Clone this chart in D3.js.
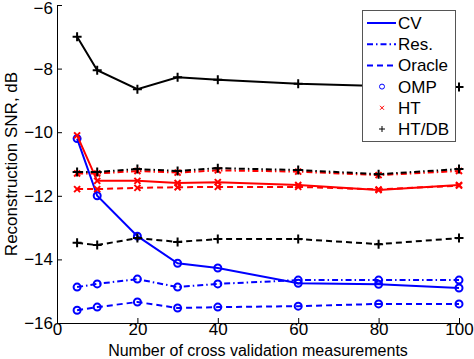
<!DOCTYPE html>
<html>
<head>
<meta charset="utf-8">
<script src="https://cdn.jsdelivr.net/npm/d3@7"></script>
<style>
  html, body { margin: 0; padding: 0; background: #fff; overflow: hidden; }
  svg { display: block; font-family: "Liberation Sans", Arial, Helvetica, sans-serif; }
</style>
</head>
<body>
<div id="chart"></div>
<script>
// Reconstruction SNR against number of cross validation measurements

var xValues = [5, 10, 20, 30, 40, 60, 80, 100]

// OMP (blue, circles)
var ompCV = [-10.2, -12.0, -13.27, -14.12, -14.27, -14.75, -14.78, -14.9]
var ompRes = [-14.87, -14.77, -14.62, -14.87, -14.77, -14.65, -14.65, -14.65]
var ompOracle = [-15.6, -15.5, -15.34, -15.53, -15.5, -15.47, -15.4, -15.4]

// HT (red, crosses)
var htCV = [-10.1, -11.53, -11.53, -11.6, -11.57, -11.66, -11.82, -11.66]
var htRes = [-11.3, -11.3, -11.22, -11.27, -11.2, -11.24, -11.35, -11.22]
var htOracle = [-11.79, -11.79, -11.75, -11.73, -11.72, -11.72, -11.8, -11.68]

// HT/DB (black, plus)
var htdbCV = [-7.0, -8.05, -8.65, -8.27, -8.35, -8.48, -8.55, -8.58]
var htdbRes = [-11.25, -11.25, -11.16, -11.22, -11.13, -11.19, -11.32, -11.16]
var htdbOracle = [-13.48, -13.55, -13.33, -13.45, -13.36, -13.36, -13.52, -13.33]

var xTicks = [0, 20, 40, 60, 80, 100]
var yTicks = [-16, -14, -12, -10, -8, -6]

var lineLegend = ['CV', 'Res.', 'Oracle']
var markerLegend = ['OMP', 'HT', 'HT/DB']

var width = 474
var height = 359
var margin = { top: 5, right: 15, bottom: 36, left: 57 }

var styles = {
  CV: null,
  'Res.': '6,3,1.5,3',
  Oracle: '6,4'
}
var colours = { OMP: '#0000ff', HT: '#ff0000', 'HT/DB': '#000000' }
var markers = { OMP: 'circle', HT: 'x', 'HT/DB': 'plus' }

var series = [
  { method: 'OMP', kind: 'CV', values: ompCV },
  { method: 'OMP', kind: 'Res.', values: ompRes },
  { method: 'OMP', kind: 'Oracle', values: ompOracle },
  { method: 'HT', kind: 'CV', values: htCV },
  { method: 'HT', kind: 'Res.', values: htRes },
  { method: 'HT', kind: 'Oracle', values: htOracle },
  { method: 'HT/DB', kind: 'CV', values: htdbCV },
  { method: 'HT/DB', kind: 'Res.', values: htdbRes },
  { method: 'HT/DB', kind: 'Oracle', values: htdbOracle }
]

var svg = d3.select('#chart').append('svg')
  .attr('width', width)
  .attr('height', height)

var x = d3.scaleLinear().domain([0, 100]).range([margin.left, width - margin.right])
var y = d3.scaleLinear().domain([-16, -6]).range([height - margin.bottom, margin.top])

function fmt (d) { return d < 0 ? '\u2212' + Math.abs(d) : String(d) }

// Axes: MATLAB style, ticks pointing inwards, no box
var xAxis = svg.append('g')
  .attr('transform', 'translate(0,' + y(-16) + ')')
  .call(d3.axisBottom(x).tickValues(xTicks).tickSizeInner(-5).tickSizeOuter(0).tickPadding(2).tickFormat(fmt))
var yAxis = svg.append('g')
  .attr('transform', 'translate(' + x(0) + ',0)')
  .call(d3.axisLeft(y).tickValues(yTicks).tickSizeInner(-5).tickSizeOuter(0).tickPadding(4).tickFormat(fmt))

;[xAxis, yAxis].forEach(function (g) {
  g.select('.domain').attr('stroke', '#000').attr('stroke-width', 1)
  g.selectAll('.tick line').attr('stroke', '#000')
  g.selectAll('.tick text')
    .attr('fill', '#000')
    .style('font-size', '17px')
    .style('font-family', '"Liberation Sans", Arial, sans-serif')
})
// keep the top label inside the picture
yAxis.selectAll('.tick text').filter(function (d) { return d === -6 }).attr('dy', '0.5em')
xAxis.selectAll('.tick text').attr('dy', '0.6em')

svg.append('text')
  .attr('x', (x(0) + x(100)) / 2)
  .attr('y', 356)
  .attr('text-anchor', 'middle')
  .style('font-size', '16px')
  .text('Number of cross validation measurements')

svg.append('text')
  .attr('transform', 'translate(17,' + (y(-11)) + ')rotate(-90)')
  .attr('text-anchor', 'middle')
  .style('font-size', '17px')
  .text('Reconstruction SNR, dB')

var line = d3.line()
  .x(function (d, i) { return x(xValues[i]) })
  .y(function (d) { return y(d) })

function drawMarker (g, type, colour, cx, cy) {
  if (type === 'circle') {
    g.append('circle').attr('cx', cx).attr('cy', cy).attr('r', 3.5)
      .attr('fill', 'none').attr('stroke', colour).attr('stroke-width', 2)
  } else if (type === 'x') {
    var s = 3
    g.append('path')
      .attr('d', 'M' + (cx - s) + ',' + (cy - s) + 'L' + (cx + s) + ',' + (cy + s) +
        'M' + (cx - s) + ',' + (cy + s) + 'L' + (cx + s) + ',' + (cy - s))
      .attr('stroke', colour).attr('stroke-width', 2)
  } else {
    var p = 4.5
    g.append('path')
      .attr('d', 'M' + (cx - p) + ',' + cy + 'L' + (cx + p) + ',' + cy +
        'M' + cx + ',' + (cy - p) + 'L' + cx + ',' + (cy + p))
      .attr('stroke', colour).attr('stroke-width', 2)
  }
}

var plot = svg.append('g')
series.forEach(function (s) {
  var colour = colours[s.method]
  plot.append('path')
    .datum(s.values)
    .attr('d', line)
    .attr('fill', 'none')
    .attr('stroke', colour)
    .attr('stroke-width', 2)
    .attr('stroke-dasharray', styles[s.kind])
  s.values.forEach(function (v, i) {
    drawMarker(plot, markers[s.method], colour, x(xValues[i]), y(v))
  })
})

// Legend
var legend = svg.append('g')
legend.append('rect')
  .attr('x', 362.5).attr('y', 10.5)
  .attr('width', 93).attr('height', 131)
  .attr('fill', '#fff').attr('stroke', '#555').attr('stroke-width', 1)

var rowY = function (i) { return 23 + i * 21.2 }

lineLegend.forEach(function (name, i) {
  legend.append('line')
    .attr('x1', 367).attr('x2', 396)
    .attr('y1', rowY(i)).attr('y2', rowY(i))
    .attr('stroke', colours.OMP).attr('stroke-width', 2)
    .attr('stroke-dasharray', styles[name])
  legend.append('text')
    .attr('x', 398).attr('y', rowY(i) + 6)
    .style('font-size', '17px')
    .text(name)
})

markerLegend.forEach(function (name, i) {
  var ry = rowY(i + 3)
  var g = legend.append('g')
  if (markers[name] === 'circle') {
    g.append('circle').attr('cx', 382).attr('cy', ry).attr('r', 2.5)
      .attr('fill', 'none').attr('stroke', colours[name]).attr('stroke-width', 1)
  } else if (markers[name] === 'x') {
    g.append('path')
      .attr('d', 'M380,' + (ry - 2) + 'L384,' + (ry + 2) + 'M380,' + (ry + 2) + 'L384,' + (ry - 2))
      .attr('stroke', colours[name]).attr('stroke-width', 1)
  } else {
    g.append('path')
      .attr('d', 'M379,' + ry + 'L385,' + ry + 'M382,' + (ry - 3) + 'L382,' + (ry + 3))
      .attr('stroke', colours[name]).attr('stroke-width', 1)
  }
  legend.append('text')
    .attr('x', 398).attr('y', ry + 6)
    .style('font-size', '17px')
    .text(name)
})
</script>
</body>
</html>
